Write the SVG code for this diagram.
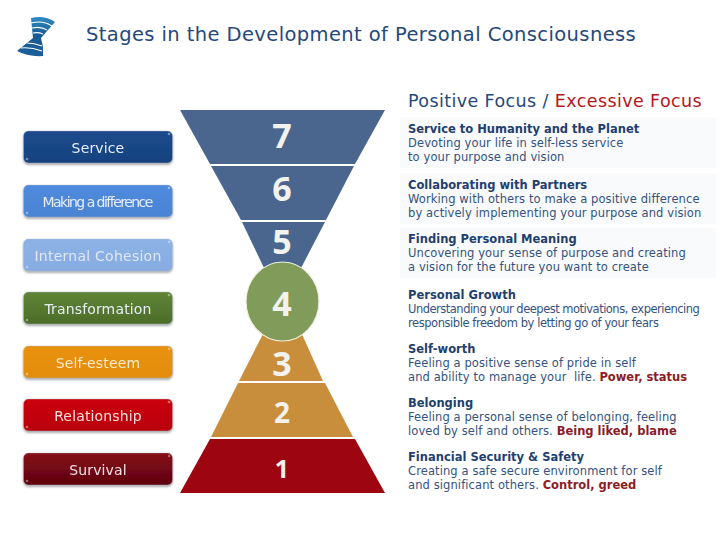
<svg xmlns="http://www.w3.org/2000/svg" width="728" height="546" viewBox="0 0 728 546">
<style>
text{font-family:"DejaVu Sans",Verdana,sans-serif}
.title{font-size:19.5px;fill:#26487a;letter-spacing:.4px}
.focus{font-size:17.5px;fill:#26487a;letter-spacing:.4px}
.btn{font-size:14px;text-anchor:middle;fill:#e8eef6;letter-spacing:.15px}
.h{font-size:11.5px;font-weight:bold;fill:#1f3f70}
.t{font-size:11.5px;fill:#34537f;letter-spacing:.1px}
.x{font-weight:bold;fill:#8c1c24;letter-spacing:0}
text.num{font-family:"Open Sans","DejaVu Sans",sans-serif;font-size:34px;font-weight:700;text-anchor:middle;fill:#f2f2ee}
.panel{fill:#f9fafb}
.b{stroke:#b9c3cf;stroke-width:.4}
.dot{fill:#fff;opacity:.4}
.arc{fill:none;stroke:#fff;stroke-width:1.1}
</style>
<defs>
<filter id="sh" x="-5%" y="-10%" width="110%" height="130%"><feDropShadow dx="0" dy="1.5" stdDeviation="1.2" flood-color="#555" flood-opacity=".6"/></filter>
<linearGradient id="g1" x1="0" y1="0" x2="0" y2="1"><stop offset="0" stop-color="#1c4a8c"/><stop offset="1" stop-color="#17427f"/></linearGradient>
<linearGradient id="g2" x1="0" y1="0" x2="0" y2="1"><stop offset="0" stop-color="#4f8ade"/><stop offset="1" stop-color="#4a83d3"/></linearGradient>
<linearGradient id="g3" x1="0" y1="0" x2="0" y2="1"><stop offset="0" stop-color="#8db2e6"/><stop offset="1" stop-color="#86ace2"/></linearGradient>
<linearGradient id="g4" x1="0" y1="0" x2="0" y2="1"><stop offset="0" stop-color="#5f8435"/><stop offset="1" stop-color="#4c6d2a"/></linearGradient>
<linearGradient id="g5" x1="0" y1="0" x2="0" y2="1"><stop offset="0" stop-color="#e8920f"/><stop offset="1" stop-color="#e38c0a"/></linearGradient>
<linearGradient id="g6" x1="0" y1="0" x2="0" y2="1"><stop offset="0" stop-color="#cc0408"/><stop offset="1" stop-color="#b90207"/></linearGradient>
<linearGradient id="g7" x1="0" y1="0" x2="0" y2="1"><stop offset="0" stop-color="#860a16"/><stop offset="1" stop-color="#5e0410"/></linearGradient>
<linearGradient id="lg" x1="0" y1="0" x2="0" y2="1"><stop offset="0" stop-color="#2f8cc4"/><stop offset=".45" stop-color="#1a5a94"/><stop offset="1" stop-color="#1c5f98"/></linearGradient>
</defs>
<rect width="728" height="546" fill="#fff"/>

<g id="logo">
<path d="M31 18Q45 15 55 22L41 38L43 47L43 56Q28 57 17 51L33 38Z" fill="url(#lg)"/>
<path class="arc" d="M31 23Q43 20 52 26"/>
<path class="arc" d="M32 28Q41 26 47 30"/>
<path class="arc" d="M33 33Q38 32 43 34"/>
<path class="arc" d="M27 43Q34 43 42 46"/>
<path class="arc" d="M21 48Q31 47 42 51"/>
</g>

<text class="title" x="86" y="41">Stages in the Development of Personal Consciousness</text>

<g id="funnel">
<g id="stage-7"><polygon points="180,110 385,110 355,164 210,164" fill="#4a668f"/><text class="num" x="282" y="148">7</text></g>
<g id="stage-6"><polygon points="211,166 354,166 326,220 241,220" fill="#4a668f"/><text class="num" x="282" y="201">6</text></g>
<g id="stage-5"><polygon points="242,222 325,222 300,270 265,270" fill="#4a668f"/><text class="num" x="282" y="254">5</text></g>
<g id="stage-3"><polygon points="264,332 301,332 323,381 239,381" fill="#c98e3c"/><text class="num" x="282" y="376">3</text></g>
<g id="stage-2"><polygon points="238,383 325,383 353,437 211,437" fill="#c98e3c"/><text class="num" x="282" y="423" style="font-size:28px">2</text></g>
<g id="stage-1"><polygon points="210,439 355,439 385,493 180,493" fill="#9d0510"/><text class="num" x="282" y="478" style="font-size:25px">1</text></g>
<g id="stage-4"><ellipse cx="282.500" cy="301.500" rx="36.500" ry="39.500" fill="#819c5a" stroke="#eef0e0" stroke-width="1.200"/><text class="num" x="282" y="316">4</text></g>
</g>

<g id="button-service" filter="url(#sh)"><rect class="b" x="23.5" y="131" width="149" height="32" rx="5" fill="url(#g1)"/><circle class="dot" cx="27" cy="159" r="1.300"/><circle class="dot" cx="169" cy="134" r="1.300"/><text class="btn" x="98" y="153">Service</text></g>
<g id="button-difference" filter="url(#sh)"><rect class="b" x="23.5" y="185" width="149" height="32" rx="5" fill="url(#g2)"/><circle class="dot" cx="27" cy="213" r="1.300"/><circle class="dot" cx="169" cy="188" r="1.300"/><text class="btn" x="98" y="207" textLength="111" lengthAdjust="spacing">Making a difference</text></g>
<g id="button-cohesion" filter="url(#sh)"><rect class="b" x="23.5" y="239" width="149" height="32" rx="5" fill="url(#g3)"/><circle class="dot" cx="27" cy="267" r="1.300"/><circle class="dot" cx="169" cy="242" r="1.300"/><text class="btn" x="98" y="261" style="fill:#dfe8f4;letter-spacing:.25px">Internal Cohesion</text></g>
<g id="button-transformation" filter="url(#sh)"><rect class="b" x="23.5" y="292" width="149" height="32" rx="5" fill="url(#g4)"/><circle class="dot" cx="27" cy="320" r="1.300"/><circle class="dot" cx="169" cy="295" r="1.300"/><text class="btn" x="98" y="314">Transformation</text></g>
<g id="button-selfesteem" filter="url(#sh)"><rect class="b" x="23.5" y="346" width="149" height="32" rx="5" fill="url(#g5)"/><circle class="dot" cx="27" cy="374" r="1.300"/><circle class="dot" cx="169" cy="349" r="1.300"/><text class="btn" x="98" y="368" style="fill:#fbeacb">Self-esteem</text></g>
<g id="button-relationship" filter="url(#sh)"><rect class="b" x="23.5" y="399" width="149" height="32" rx="5" fill="url(#g6)"/><circle class="dot" cx="27" cy="427" r="1.300"/><circle class="dot" cx="169" cy="402" r="1.300"/><text class="btn" x="98" y="421" style="fill:#f8dcdc">Relationship</text></g>
<g id="button-survival" filter="url(#sh)"><rect class="b" x="23.5" y="453" width="149" height="32" rx="5" fill="url(#g7)"/><circle class="dot" cx="27" cy="481" r="1.300"/><circle class="dot" cx="169" cy="456" r="1.300"/><text class="btn" x="98" y="475" style="fill:#f4e2e2">Survival</text></g>

<text class="focus" x="408" y="107">Positive Focus / <tspan fill="#b5161c">Excessive Focus</tspan></text>

<rect class="panel" x="400" y="117" width="316" height="51"/>
<rect class="panel" x="400" y="173" width="316" height="51"/>
<rect class="panel" x="400" y="228" width="316" height="50"/>

<g id="desc-7"><text class="h" x="408" y="133">Service to Humanity and the Planet</text><text class="t" x="408" y="147">Devoting your life in self-less service</text><text class="t" x="408" y="161">to your purpose and vision</text></g>
<g id="desc-6"><text class="h" x="408" y="189">Collaborating with Partners</text><text class="t" x="408" y="203">Working with others to make a positive difference</text><text class="t" x="408" y="217">by actively implementing your purpose and vision</text></g>
<g id="desc-5"><text class="h" x="408" y="243">Finding Personal Meaning</text><text class="t" x="408" y="257">Uncovering your sense of purpose and creating</text><text class="t" x="408" y="271">a vision for the future you want to create</text></g>
<g id="desc-4"><text class="h" x="408" y="299">Personal Growth</text><text class="t" x="408" y="313" textLength="292">Understanding your deepest motivations, experiencing</text><text class="t" x="408" y="327" textLength="251">responsible freedom by letting go of your fears</text></g>
<g id="desc-3"><text class="h" x="408" y="353">Self-worth</text><text class="t" x="408" y="367">Feeling a positive sense of pride in self</text><text class="t" x="408" y="381">and ability to manage your&#160; life. <tspan class="x">Power, status</tspan></text></g>
<g id="desc-2"><text class="h" x="408" y="407">Belonging</text><text class="t" x="408" y="421">Feeling a personal sense of belonging, feeling</text><text class="t" x="408" y="435">loved by self and others. <tspan class="x">Being liked, blame</tspan></text></g>
<g id="desc-1"><text class="h" x="408" y="461">Financial Security &amp; Safety</text><text class="t" x="408" y="475">Creating a safe secure environment for self</text><text class="t" x="408" y="489">and significant others. <tspan class="x">Control, greed</tspan></text></g>
</svg>
